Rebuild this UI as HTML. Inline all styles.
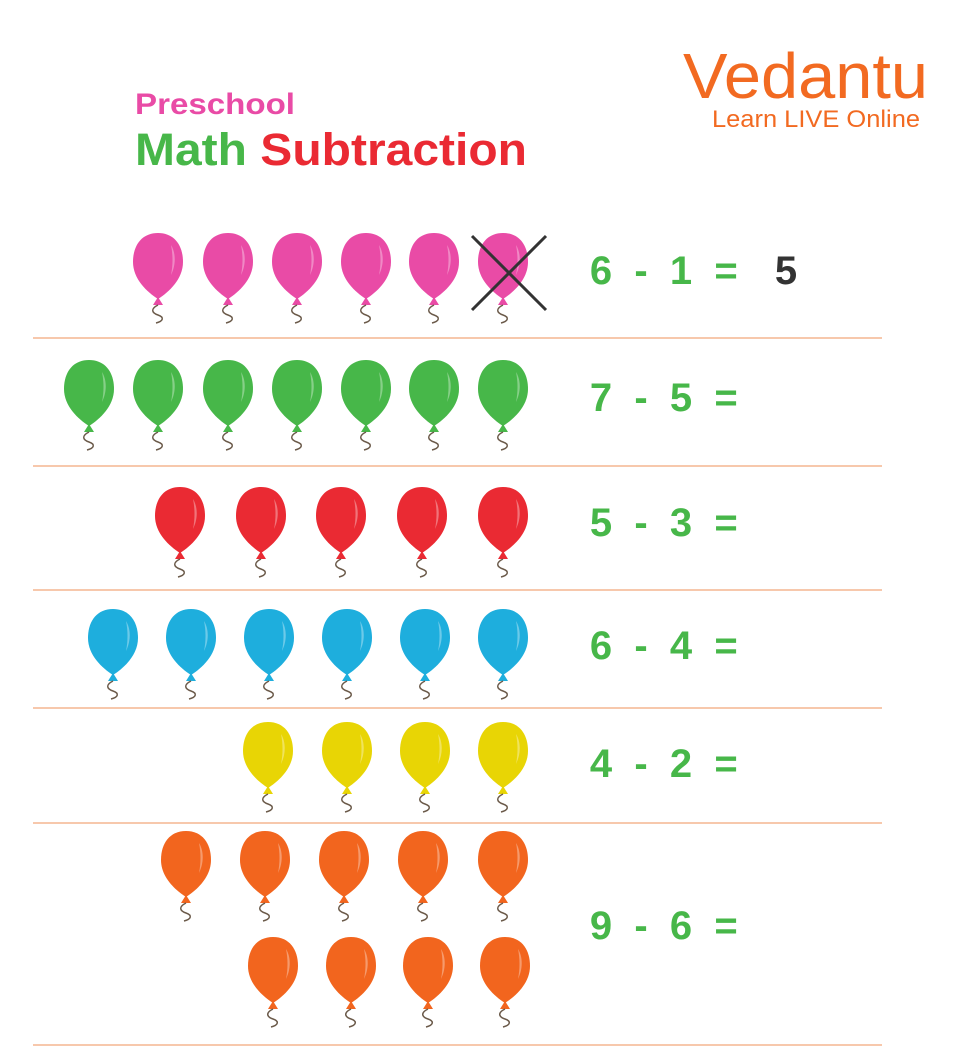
<!DOCTYPE html>
<html><head><meta charset="utf-8"><style>
html,body{margin:0;padding:0;background:#fff;}
svg{display:block}
</style></head><body>
<svg width="962" height="1064" viewBox="0 0 962 1064" xmlns="http://www.w3.org/2000/svg">
<defs>
<g id="b">
<path d="M0,0 C16,0 25,12 25,29 C25,46 11,59 0,66 C-11,59 -25,46 -25,29 C-25,12 -16,0 0,0Z"/>
<path d="M0,64 L5,72 L-5,72Z"/>
<path d="M13,12 C18,20 18,32 13,42 C15,32 15,22 13,12Z" fill="#fff" fill-opacity="0.35"/>
<path d="M0,72 C-8,76 -6,80 0,82 C6,84 6,88 -2,90" fill="none" stroke="#6b5a4a" stroke-width="1.5"/>
</g>
</defs>
<text x="135" y="114" font-family="Liberation Sans,sans-serif" font-weight="bold" font-size="30" fill="#e94ba6" textLength="160" lengthAdjust="spacingAndGlyphs">Preschool</text>
<text x="135" y="165" font-family="Liberation Sans,sans-serif" font-weight="bold" font-size="45" fill="#47b749" textLength="392" lengthAdjust="spacingAndGlyphs">Math <tspan fill="#ea2a33">Subtraction</tspan></text>
<text x="683" y="98" font-family="Liberation Sans,sans-serif" font-size="64" fill="#f26a21" textLength="245" lengthAdjust="spacingAndGlyphs">Vedantu</text>
<text x="712" y="127" font-family="Liberation Sans,sans-serif" font-size="24" fill="#f26a21" textLength="208" lengthAdjust="spacingAndGlyphs">Learn LIVE Online</text>
<g stroke="#f2a77a" stroke-width="1.3">
<line x1="33" y1="338" x2="882" y2="338"/><line x1="33" y1="466" x2="882" y2="466"/>
<line x1="33" y1="590" x2="882" y2="590"/><line x1="33" y1="708" x2="882" y2="708"/>
<line x1="33" y1="823" x2="882" y2="823"/><line x1="33" y1="1045" x2="882" y2="1045"/>
</g>
<g fill="#e94ba6">
<use href="#b" x="158" y="233"/><use href="#b" x="228" y="233"/><use href="#b" x="297" y="233"/><use href="#b" x="366" y="233"/><use href="#b" x="434" y="233"/><use href="#b" x="503" y="233"/>
</g>
<g stroke="#333" stroke-width="3"><line x1="472" y1="236" x2="546" y2="310"/><line x1="546" y1="236" x2="472" y2="310"/></g>
<g fill="#47b749">
<use href="#b" x="89" y="360"/><use href="#b" x="158" y="360"/><use href="#b" x="228" y="360"/><use href="#b" x="297" y="360"/><use href="#b" x="366" y="360"/><use href="#b" x="434" y="360"/><use href="#b" x="503" y="360"/>
</g>
<g fill="#ea2a33">
<use href="#b" x="180" y="487"/><use href="#b" x="261" y="487"/><use href="#b" x="341" y="487"/><use href="#b" x="422" y="487"/><use href="#b" x="503" y="487"/>
</g>
<g fill="#1eaedd">
<use href="#b" x="113" y="609"/><use href="#b" x="191" y="609"/><use href="#b" x="269" y="609"/><use href="#b" x="347" y="609"/><use href="#b" x="425" y="609"/><use href="#b" x="503" y="609"/>
</g>
<g fill="#e8d505">
<use href="#b" x="268" y="722"/><use href="#b" x="347" y="722"/><use href="#b" x="425" y="722"/><use href="#b" x="503" y="722"/>
</g>
<g fill="#f2651e">
<use href="#b" x="186" y="831"/><use href="#b" x="265" y="831"/><use href="#b" x="344" y="831"/><use href="#b" x="423" y="831"/><use href="#b" x="503" y="831"/>
<use href="#b" x="273" y="937"/><use href="#b" x="351" y="937"/><use href="#b" x="428" y="937"/><use href="#b" x="505" y="937"/>
</g>
<g font-family="Liberation Sans,sans-serif" font-weight="bold" font-size="40" fill="#47b749" text-anchor="middle">
<text y="284"><tspan x="601">6</tspan><tspan x="641">-</tspan><tspan x="681">1</tspan><tspan x="726">=</tspan><tspan x="786" fill="#333">5</tspan></text>
<text y="411"><tspan x="601">7</tspan><tspan x="641">-</tspan><tspan x="681">5</tspan><tspan x="726">=</tspan></text>
<text y="536"><tspan x="601">5</tspan><tspan x="641">-</tspan><tspan x="681">3</tspan><tspan x="726">=</tspan></text>
<text y="659"><tspan x="601">6</tspan><tspan x="641">-</tspan><tspan x="681">4</tspan><tspan x="726">=</tspan></text>
<text y="777"><tspan x="601">4</tspan><tspan x="641">-</tspan><tspan x="681">2</tspan><tspan x="726">=</tspan></text>
<text y="939"><tspan x="601">9</tspan><tspan x="641">-</tspan><tspan x="681">6</tspan><tspan x="726">=</tspan></text>
</g>
</svg>
</body></html>
